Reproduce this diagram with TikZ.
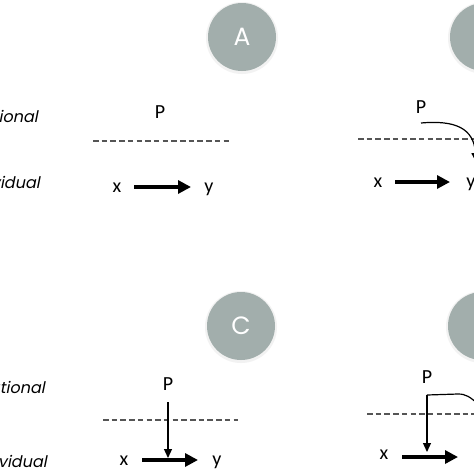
\documentclass[tikz,border=0pt]{standalone}
\usepackage{fontspec}
\setmainfont{Carlito}
\newfontfamily\labfont[FakeSlant=0.2]{Poppins}
\newfontfamily\circfont{Poppins}
\usetikzlibrary{arrows.meta}
\definecolor{circgray}{RGB}{162,174,172}
\definecolor{dashgray}{RGB}{85,85,85}
\tikzset{
  var/.style={font=\fontsize{20}{20}\selectfont, anchor=base, inner sep=0pt},
  lvl/.style={font=\labfont\fontsize{16}{16}\selectfont, anchor=base east, inner sep=0pt},
  badge/.style={circle, fill=circgray, minimum size=68pt, inner sep=0pt, text=white, font=\circfont\fontsize{25}{25}\selectfont},
  halo/.style={fill=black!5},
  sep/.style={dashgray, line width=1.3pt, dash pattern=on 5.5pt off 3.2pt},
  bigarrow/.style={line width=3.2pt, -{Triangle[length=13pt,width=13pt]}},
  thinarrow/.style={line width=1.2pt, -{Triangle[length=9pt,width=8pt]}},
  thinline/.style={line width=1.2pt}
}
\begin{document}
\begin{tikzpicture}[x=1pt,y=-1pt]
\useasboundingbox (0,0) rectangle (474,474);
\clip (0,0) rectangle (474,474);
\fill[white] (0,0) rectangle (474,474);
% badges
\foreach \cx/\cy in {242/37, 484/37, 241/326, 482/326}{\fill[halo] (\cx,\cy+1) circle (36);}
\node[badge] (cA) at (242,37) {A};
\node[badge] (cB) at (484,37) {B};
\node[badge] (cC) at (241,326) {C};
\node[badge] (cD) at (482,326) {D};
% level labels
\node[lvl] (l1) at (38,122) {Institutional};
\node[lvl] (l2) at (40,188) {Individual};
\node[lvl] (l3) at (45,393) {Institutional};
\node[lvl] (l4) at (47,467) {Individual};
% Panel A
\node[var] (pA) at (160,118) {P};
\coordinate (dA1) at (93,141); \coordinate (dA2) at (230,141);
\draw[sep] (dA1) -- (dA2);
\node[var] (xA) at (117,192) {x};
\node[var] (yA) at (209,192) {y};
\draw[bigarrow] (134,187) coordinate (sA) -- (191,187) coordinate (tA);
% Panel B
\node[var] (pB) at (421,113) {P};
\coordinate (dB1) at (358,139); \coordinate (dB2) at (480,139);
\draw[sep] (dB1) -- (dB2);
\node[var] (xB) at (378,187) {x};
\node[var] (yB) at (471,187) {y};
\draw[bigarrow] (395,182) coordinate (sB) -- (450,182) coordinate (tB);
\coordinate (cB1) at (421,123);
\coordinate (cB2) at (476,162);
\draw[thinarrow] (cB1) .. controls (455,120) and (474,128) .. (cB2);
% Panel C
\node[var] (pC) at (168,390) {P};
\coordinate (dC1) at (103,420); \coordinate (dC2) at (238,420);
\draw[sep] (dC1) -- (dC2);
\node[var] (xC) at (124,465) {x};
\node[var] (yC) at (217,465) {y};
\draw[bigarrow] (142,460) coordinate (sC) -- (198,460) coordinate (tC);
\draw[thinarrow] (pC.south |- 0,402) -- (168,458);
% Panel D
\node[var] (pD) at (427,383) {P};
\coordinate (dD1) at (367,414); \coordinate (dD2) at (480,414);
\draw[sep] (dD1) -- (dD2);
\node[var] (xD) at (384,459) {x};
\draw[bigarrow] (402,457) coordinate (sD) -- (458,457) coordinate (tD);
\coordinate (kD) at (427,395);
\draw[thinarrow] (kD) -- (427,452);
\draw[thinline] (kD) -- (458,394) .. controls (466,394) and (470,397) .. (478,404);
\end{tikzpicture}
\end{document}
